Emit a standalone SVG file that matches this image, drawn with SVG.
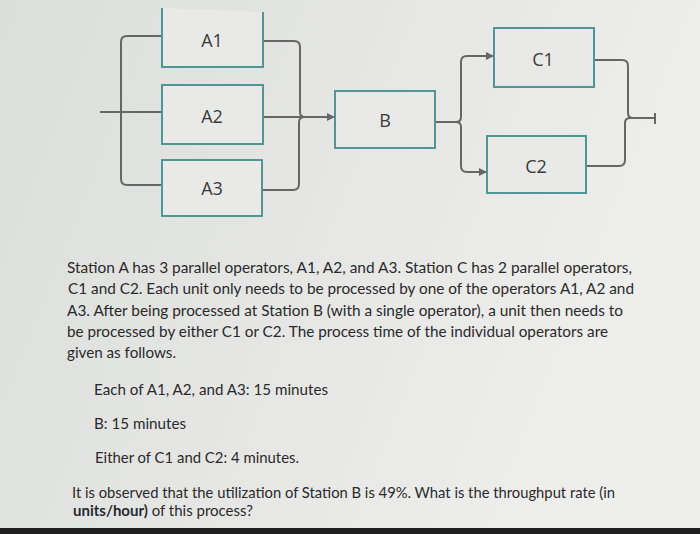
<svg xmlns="http://www.w3.org/2000/svg" width="700" height="534" viewBox="0 0 700 534">
<defs>
<linearGradient id="bg" x1="0" y1="0" x2="1" y2="0.3">
<stop offset="0" stop-color="#dcdedc"/>
<stop offset="0.6" stop-color="#e7e8e6"/>
<stop offset="1" stop-color="#eeeeed"/>
</linearGradient>
<marker id="arr" viewBox="0 0 10 10" refX="10" refY="5" markerWidth="8" markerHeight="10" markerUnits="userSpaceOnUse" orient="auto">
<path d="M0,0 L10,5 L0,10 Z" fill="#666"/>
</marker>
<style>
.box{fill:#e9eae8;stroke:#4f9696;stroke-width:2}
.lbl{font-family:"Open Sans","Liberation Sans",sans-serif;font-size:18px;fill:#3a3a3a;text-anchor:middle}
.con{fill:none;stroke:#666;stroke-width:2}
.txt{font-family:Lato,"Liberation Sans",sans-serif;font-size:16px;fill:#2a2a2a}
.sm{font-size:15.3px}
</style>
</defs>
<rect x="0" y="0" width="700" height="534" fill="url(#bg)"/>
<rect x="0" y="528" width="700" height="6" fill="#1f1f1f"/>

<g id="connectors">
<path class="con" d="M100,112 H162"/>
<path class="con" d="M162,36 H127 Q121,36 121,42 V179 Q121,185 127,185 H162"/>
<path class="con" d="M263,41 H294 Q300,41 300,47 V112 Q300,117 305,117"/>
<path class="con" d="M263,190 H293 Q299,190 299,184 V122 Q299,117 305,117"/>
<path class="con" d="M263,117 H335" marker-end="url(#arr)"/>
<path class="con" d="M435,122 H456 Q461,122 461,117 V62 Q461,56 467,56 H494" marker-end="url(#arr)"/>
<path class="con" d="M456,122 Q461,122 461,127 V166 Q461,172 467,172 H487" marker-end="url(#arr)"/>
<path class="con" d="M594,60 H622 Q628,60 628,66 V113 Q628,118 633,118"/>
<path class="con" d="M586,166 H619 Q625,166 625,160 V123 Q625,118 630,118"/>
<path class="con" d="M628,118 H655 M655,113 V124"/>
</g>

<g id="A1">
<path class="box" d="M162,8 V67 H263 V12"/>
<text class="lbl" x="212" y="47">A1</text>
</g>
<g id="A2">
<rect class="box" x="162" y="85" width="101" height="59"/>
<text class="lbl" x="212" y="123">A2</text>
</g>
<g id="A3">
<rect class="box" x="162" y="160" width="100" height="56"/>
<text class="lbl" x="212" y="195">A3</text>
</g>
<g id="B">
<rect class="box" x="335" y="91" width="100" height="57"/>
<text class="lbl" x="385" y="127">B</text>
</g>
<g id="C1">
<rect class="box" x="494" y="28" width="100" height="59"/>
<text class="lbl" x="543" y="66">C1</text>
</g>
<g id="C2">
<rect class="box" x="487" y="136" width="99" height="57"/>
<text class="lbl" x="536" y="173">C2</text>
</g>

<g id="text">
<text class="txt" x="67" y="273" textLength="565" lengthAdjust="spacingAndGlyphs">Station A has 3 parallel operators, A1, A2, and A3. Station C has 2 parallel operators,</text>
<text class="txt" x="68" y="294" textLength="566" lengthAdjust="spacingAndGlyphs">C1 and C2. Each unit only needs to be processed by one of the operators A1, A2 and</text>
<text class="txt" x="67" y="316" textLength="556" lengthAdjust="spacingAndGlyphs">A3. After being processed at Station B (with a single operator), a unit then needs to</text>
<text class="txt" x="67" y="337" textLength="541" lengthAdjust="spacingAndGlyphs">be processed by either C1 or C2. The process time of the individual operators are</text>
<text class="txt sm" x="67" y="358" textLength="109" lengthAdjust="spacingAndGlyphs">given as follows.</text>
<text class="txt sm" x="94" y="395" textLength="234" lengthAdjust="spacingAndGlyphs">Each of A1, A2, and A3: 15 minutes</text>
<text class="txt sm" x="94" y="429" textLength="92" lengthAdjust="spacingAndGlyphs">B: 15 minutes</text>
<text class="txt sm" x="95" y="463" textLength="204" lengthAdjust="spacingAndGlyphs">Either of C1 and C2: 4 minutes.</text>
<text class="txt" x="72" y="498" textLength="543" lengthAdjust="spacingAndGlyphs">It is observed that the utilization of Station B is 49%. What is the throughput rate (in</text>
<text class="txt sm" x="73" y="516" textLength="180" lengthAdjust="spacingAndGlyphs"><tspan font-weight="700">units/hour)</tspan> of this process?</text>
</g>
</svg>
